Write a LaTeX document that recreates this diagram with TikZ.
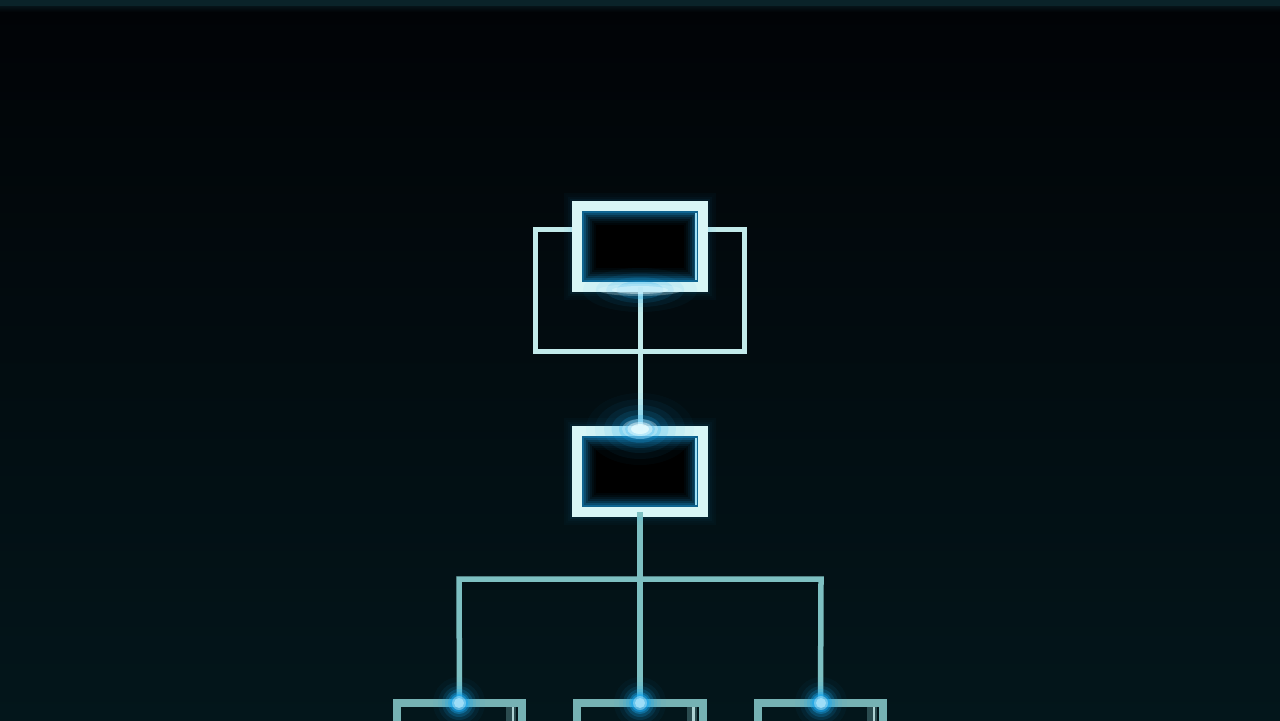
\documentclass[tikz,border=0pt]{standalone}
\usetikzlibrary{calc}
\definecolor{bgtop}{HTML}{010306}
\definecolor{bgbot}{HTML}{03161B}
\definecolor{strip}{HTML}{0A2329}
\definecolor{boxw}{HTML}{D8F6F6}
\definecolor{brk}{HTML}{C2EAEA}
\definecolor{lnk}{HTML}{7EC0C2}
\definecolor{subc}{HTML}{76B2B4}
\definecolor{glowb}{HTML}{18A8F0}
\definecolor{core}{HTML}{E8FCFF}
\begin{document}
\begin{tikzpicture}[x=0.01cm,y=0.01cm,
  mainbox/.style={draw=boxw, line width=0.1cm, fill=black, minimum width=1.26cm, minimum height=0.81cm, outer sep=0pt, inner sep=0pt},
  subbox/.style={draw=subc, line width=0.08cm, fill=bgbot, minimum width=1.25cm, minimum height=1.2cm, outer sep=0pt, inner sep=0pt},
  bracket/.style={draw=brk, line width=0.05cm},
  uplink/.style={draw=brk, line width=0.05cm},
  link/.style={draw=lnk, line width=0.055cm}]
\useasboundingbox (0,0) rectangle (1280,720);
\clip (0,0) rectangle (1280,720);
% background
\shade[top color=bgtop, bottom color=bgbot] (0,0) rectangle (1280,714);
\shade[top color=strip, bottom color=bgtop] (0,708) rectangle (1280,720);
\fill[strip] (0,714) rectangle (1280,720);
% bracket behind top box
\draw[bracket] (535.5,490.5) rectangle (744.5,368.5);
% nodes
\node[mainbox] (top) at (640,473.5) {};
\node[mainbox] (mid) at (640,248.5) {};
\node[subbox] (b1) at (459.5,-43) {};
\node[subbox] (b2) at (640,-43) {};
\node[subbox] (b3) at (820.5,-43) {};
\coordinate (j1) at (459,141);
\coordinate (j3) at (821,141);
% connectors
\draw[uplink] (top.south) -- (mid.north);
\draw[link] (mid.south) -- (b2.north);
\draw[link] (b1.north) -- (j1) -- (j3) -- (b3.north);
% inner glows of main boxes
\foreach \n in {top,mid}{
  \foreach \d/\o in {6/0.6,8/0.45,10/0.32,12/0.22,14/0.14,16/0.08,18/0.04}
    \draw[glowb, line width=0.022cm, opacity=\o] ($(\n.south west)+(\d,\d)$) rectangle ($(\n.north east)-(\d,\d)$);
  \foreach \d/\o in {6/0.12,8/0.07,10/0.045,12/0.03}
    \draw[glowb, line width=0.022cm, opacity=\o] ($(\n.south west)-(\d,\d)$) rectangle ($(\n.north east)+(\d,\d)$);
  \draw[boxw!70!glowb, line width=0.02cm] ($(\n.north east)+(-7,-7)$) -- ($(\n.south east)+(-7,7)$);
}
% bevel on sub boxes
\foreach \n in {b1,b2,b3}{
  \fill[subc, opacity=0.35] ($(\n.north east)+(-16,-4)$) rectangle ($(\n.south east)+(-6,0)$);
  \draw[subc!60!white, line width=0.025cm] ($(\n.north east)+(-9,-4)$) -- ($(\n.south east)+(-9,0)$);
}
% glow spots at sub boxes
\foreach \p in {(459,17),(640,17),(821,17)}{
  \foreach \r/\o in {26/0.04,21/0.07,17/0.12,14/0.2,11/0.35,9/0.5}
    \fill[glowb, opacity=\o] \p circle (\r);
  \foreach \r/\o in {7/0.5,5/0.8}
    \fill[core!70!glowb, opacity=\o] \p circle (\r);
}
% glow at top of mid box
\foreach \r/\o in {36/0.03,30/0.05,24/0.08,19/0.12,14/0.2,10/0.35}
  \fill[glowb, opacity=\o] (640,291) ellipse ({\r*1.5} and \r);
\foreach \r/\o in {10/0.3,7/0.5,5/0.8}
  \fill[core, opacity=\o] (640,291) ellipse ({\r*1.8} and \r);
% glow at bottom of top box
\foreach \r/\o in {22/0.04,17/0.07,13/0.12,9/0.2}
  \fill[glowb, opacity=\o] (640,430) ellipse ({\r*2.6} and \r);
\foreach \r/\o in {6/0.25,4/0.45}
  \fill[core, opacity=\o] (640,430) ellipse ({\r*7} and \r);
\end{tikzpicture}
\end{document}
